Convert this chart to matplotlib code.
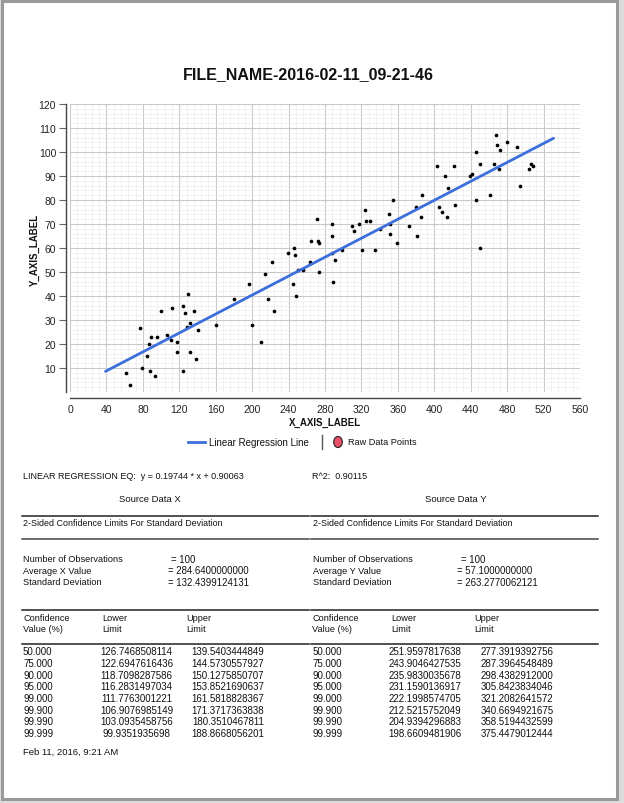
import matplotlib
matplotlib.use('Agg')
import matplotlib.pyplot as plt
from matplotlib.lines import Line2D
from matplotlib.patches import Rectangle, Circle
from matplotlib.ticker import MultipleLocator

plt.rcParams['font.family'] = ['Liberation Sans', 'DejaVu Sans']

W, H = 624, 804

# ---------------- data ----------------
title = "FILE_NAME-2016-02-11_09-21-46"
x_label = "X_AXIS_LABEL"
y_label = "Y_AXIS_LABEL"

x_values = [61.1, 66.2, 76.4, 79.3, 84.0, 86.9, 88.0, 89.1, 93.1, 96.0,
            100.0, 106.5, 110.9, 112.0, 117.8, 117.8, 124.4, 124.4, 126.5, 128.7,
            129.8, 131.6, 131.6, 136.4, 138.5, 140.7, 160.4, 180.4, 196.4, 199.3,
            210.2, 214.2, 217.1, 221.8, 224.0, 239.6, 244.7, 245.8, 246.9, 248.7,
            250.5, 256.0, 263.6, 264.7, 271.6, 272.4, 273.5, 273.5, 287.4, 287.4,
            288.2, 288.9, 291.1, 299.1, 309.4, 312.3, 317.1, 321.1, 324.0, 325.5,
            329.1, 335.0, 340.9, 350.7, 351.1, 351.8, 354.8, 358.8, 372.7, 380.0,
            381.1, 385.9, 387.0, 402.7, 404.9, 408.2, 411.9, 414.0, 415.1, 421.7,
            422.8, 438.9, 441.4, 446.2, 446.2, 449.9, 449.9, 461.2, 466.0, 467.8,
            468.9, 470.7, 471.8, 479.9, 490.9, 493.8, 504.0, 506.6, 508.8]
y_values = [7.9, 2.9, 26.8, 9.9, 14.9, 19.9, 8.8, 22.9, 6.8, 22.9,
            33.9, 23.9, 21.8, 34.9, 20.9, 16.8, 36.0, 8.8, 33.0, 27.0,
            41.0, 28.9, 16.8, 33.9, 13.9, 25.9, 27.8, 38.9, 44.9, 27.8,
            20.9, 49.0, 38.9, 54.0, 33.9, 58.0, 44.9, 59.9, 57.0, 39.9,
            50.9, 50.9, 54.0, 63.0, 72.0, 63.0, 62.0, 49.9, 70.0, 65.0,
            58.0, 45.9, 54.9, 59.0, 69.0, 67.0, 70.0, 59.0, 76.0, 71.1,
            71.1, 59.0, 68.0, 74.0, 70.0, 65.9, 80.1, 62.0, 69.0, 77.0,
            65.0, 73.0, 82.1, 94.0, 77.0, 75.0, 90.0, 73.0, 85.0, 94.0,
            78.0, 90.0, 91.0, 100.0, 80.0, 95.0, 60.0, 81.9, 95.0, 107.1,
            103.1, 93.0, 101.0, 104.0, 101.9, 86.0, 93.0, 95.0, 94.0]

slope = 0.19744
intercept = 0.90063
line_x = [39.0, 531.0]

x_ticks = list(range(0, 561, 40))
y_ticks = list(range(10, 121, 10))

legend_labels = ["Linear Regression Line", "Raw Data Points"]

eq_text = "LINEAR REGRESSION EQ:  y = 0.19744 * x + 0.90063"
r2_text = "R^2:  0.90115"
source_titles = ["Source Data X", "Source Data Y"]
section_title = "2-Sided Confidence Limits For Standard Deviation"

stat_names_x = ["Number of Observations", "Average X Value", "Standard Deviation"]
stat_vals_x = ["= 100", "= 284.6400000000", "= 132.4399124131"]
stat_names_y = ["Number of Observations", "Average Y Value", "Standard Deviation"]
stat_vals_y = ["= 100", "= 57.1000000000", "= 263.2770062121"]

conf_levels = ["50.000", "75.000", "90.000", "95.000", "99.000", "99.900", "99.990", "99.999"]
x_lower = ["126.7468508114", "122.6947616436", "118.7098287586", "116.2831497034",
           "111.7763001221", "106.9076985149", "103.0935458756", "99.9351935698"]
x_upper = ["139.5403444849", "144.5730557927", "150.1275850707", "153.8521690637",
           "161.5818828367", "171.3717363838", "180.3510467811", "188.8668056201"]
y_lower = ["251.9597817638", "243.9046427535", "235.9830035678", "231.1590136917",
           "222.1998574705", "212.5215752049", "204.9394296883", "198.6609481906"]
y_upper = ["277.3919392756", "287.3964548489", "298.4382912000", "305.8423834046",
           "321.2082641572", "340.6694921675", "358.5194432599", "375.4479012444"]
date_text = "Feb 11, 2016, 9:21 AM"

# ---------------- helpers ----------------
def fx(px):
    return px / W

def fy(py):
    return 1 - py / H

fig = plt.figure(figsize=(W / 100, H / 100), dpi=100)
fig.patch.set_facecolor('#dcdcdc')
fig.add_artist(Rectangle((fx(2), fy(800)), fx(617) - fx(2), fy(2) - fy(800),
                         transform=fig.transFigure, facecolor='white',
                         edgecolor='#9a9a9a', linewidth=2.2, zorder=0))

def txt(x, y, s, size=6.6, ha='left', weight='normal', color='#111111', **kw):
    fig.text(fx(x), fy(y), s, ha=ha, va='center', fontsize=size,
             fontweight=weight, color=color, **kw)

def hrule(x0, x1, y, lw=1.0, color='#222222'):
    fig.add_artist(Line2D([fx(x0), fx(x1)], [fy(y), fy(y)], transform=fig.transFigure,
                          color=color, linewidth=lw))

# ---------------- chart ----------------
ax = fig.add_axes([fx(70), fy(393), fx(580) - fx(70), fy(105) - fy(393)])
ax.set_xlim(0, 560)
ax.set_ylim(0, 120)
ax.xaxis.set_minor_locator(MultipleLocator(8))
ax.yaxis.set_minor_locator(MultipleLocator(2))
ax.set_xticks(x_ticks)
ax.set_yticks(y_ticks)
ax.grid(which='major', color='#c8c8c8', linewidth=0.75)
ax.grid(which='minor', color='#ececec', linewidth=0.5)
ax.set_axisbelow(True)
for s in ['top', 'right']:
    ax.spines[s].set_visible(False)
ax.spines['left'].set_position(('outward', 3))
ax.spines['bottom'].set_position(('outward', 4))
ax.spines['left'].set_color('#444444')
ax.spines['bottom'].set_color('#444444')
ax.spines['left'].set_linewidth(1.0)
ax.spines['bottom'].set_linewidth(1.0)
ax.tick_params(axis='y', which='major', length=5, width=0.8, color='#666666',
               labelsize=7.5, labelcolor='#222222', pad=2)
ax.tick_params(axis='x', which='major', length=0, labelsize=7.5, labelcolor='#222222', pad=5)
ax.tick_params(which='minor', length=0)

ax.scatter(x_values, y_values, s=7, color='black', zorder=3, linewidths=0)
line_y = [slope * v + intercept for v in line_x]
ax.plot(line_x, line_y, color='#3c6edc', linewidth=2.0, zorder=4,
        solid_capstyle='round')

txt(325, 423, x_label, size=7, ha='center', weight='bold')
fig.text(fx(35), fy(250), y_label, rotation=90, ha='center', va='center',
         fontsize=7, fontweight='bold', color='#111111')
txt(308, 75, title, size=11.5, ha='center', weight='bold')

# legend
fig.add_artist(Line2D([fx(188), fx(205)], [fy(443), fy(443)], transform=fig.transFigure,
                      color='#3c6edc', linewidth=2))
txt(209, 443, legend_labels[0], size=7)
fig.add_artist(Line2D([fx(322), fx(322)], [fy(436), fy(450)], transform=fig.transFigure,
                      color='#555555', linewidth=1))
fig.add_artist(Circle((fx(338), fy(443)), 4.3 / W, transform=fig.transFigure,
                      facecolor='#e8506a', edgecolor='#222222', linewidth=0.8))
txt(348, 443, legend_labels[1], size=6.6)

# ---------------- text block ----------------
txt(23, 477, eq_text, size=6.5)
txt(312, 477, r2_text, size=6.5)
txt(150, 500, source_titles[0], size=6.8, ha='center')
txt(456, 500, source_titles[1], size=6.8, ha='center')

for x0, x1 in [(22, 309), (311, 598)]:
    hrule(x0, x1, 517, lw=1.1)
    hrule(x0, x1, 540, lw=1.1, color='#444444')
    hrule(x0, x1, 611, lw=1.1)
    hrule(x0, x1, 645, lw=1.1)
txt(23, 524, section_title, size=6.4)
txt(313, 524, section_title, size=6.4)

stat_ys = [560, 571.5, 583]
for i, y in enumerate(stat_ys):
    txt(23, y, stat_names_x[i])
    txt(168 if i else 171, y, stat_vals_x[i], size=6.9)
    txt(313, y, stat_names_y[i])
    txt(457 if i else 461, y, stat_vals_y[i], size=6.9)

for base, lo_x, up_x in [(23, 102, 186), (312.5, 391.5, 474.5)]:
    txt(base, 619, "Confidence")
    txt(base, 630, "Value (%)")
    txt(lo_x, 619, "Lower")
    txt(lo_x, 630, "Limit")
    txt(up_x, 619, "Upper")
    txt(up_x, 630, "Limit")

row_y0, row_dy = 652.5, 11.64
for i in range(len(conf_levels)):
    y = row_y0 + i * row_dy
    txt(23, y, conf_levels[i], size=7)
    txt(136.5, y, x_lower[i], ha='center', size=7)
    txt(228, y, x_upper[i], ha='center', size=7)
    txt(312.5, y, conf_levels[i], size=7)
    txt(425, y, y_lower[i], ha='center', size=7)
    txt(517, y, y_upper[i], ha='center', size=7)

txt(23, 752, date_text, size=6.8)

fig.savefig('out.png', dpi=100, facecolor=fig.get_facecolor())
